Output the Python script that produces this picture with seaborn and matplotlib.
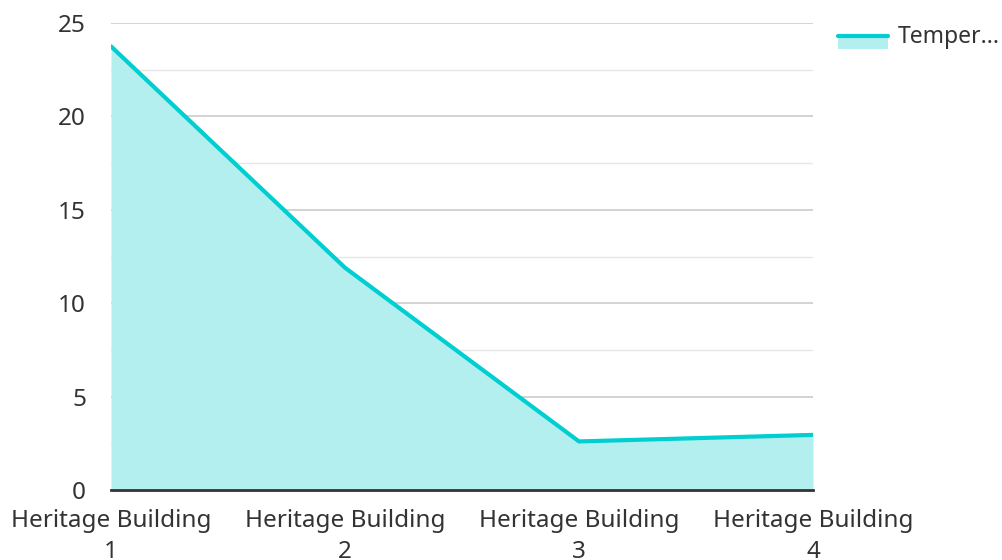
import numpy as np
import pandas as pd
import matplotlib
matplotlib.use("Agg")
import matplotlib.pyplot as plt
import seaborn as sns
from matplotlib.patches import Rectangle
from matplotlib.lines import Line2D

# data
buildings = ["Heritage Building\n1", "Heritage Building\n2", "Heritage Building\n3", "Heritage Building\n4"]
temperature = [23.75, 11.9, 2.6, 2.95]
series_label = "Temper..."

line_color = "#00CED1"
fill_color = "#B2EFEE"
text_color = "#333333"

sns.set_style("white")
plt.rcParams["font.family"] = ["Noto Sans", "DejaVu Sans"]

df = pd.DataFrame({"x": np.arange(len(buildings)), "temp": temperature})

fig = plt.figure(figsize=(10.03, 5.6), dpi=100)
ax = fig.add_axes([111 / 1003, 1 - 490 / 560, (813 - 111) / 1003, (490 - 23) / 560])

ax.fill_between(df["x"], df["temp"], 0, color=fill_color, lw=0, zorder=2)
sns.lineplot(data=df, x="x", y="temp", ax=ax, color=line_color, lw=3, zorder=3)

ax.set_xlim(0, len(buildings) - 1)
ax.set_ylim(0, 25)
ax.set_xticks(df["x"])
ax.set_xticklabels(buildings, fontsize=17.5, color=text_color, linespacing=1.35)
ax.set_yticks(np.arange(0, 26, 5))
ax.set_yticks(np.arange(2.5, 25, 5), minor=True)
ax.tick_params(axis="y", which="both", length=0, pad=18, labelsize=17.5, labelcolor=text_color)
ax.tick_params(axis="x", length=0, pad=14)
ax.grid(axis="y", which="major", color="#cccccc", lw=1.2, zorder=1)
ax.grid(axis="y", which="minor", color="#e6e6e6", lw=1, zorder=1)
ax.set_xlabel("")
ax.set_ylabel("")
for side in ["top", "right", "left"]:
    ax.spines[side].set_visible(False)
ax.spines["bottom"].set_color("#333333")
ax.spines["bottom"].set_linewidth(2)
ax.spines["bottom"].set_zorder(4)


class AreaHandler:
    def legend_artist(self, legend, orig_handle, fontsize, handlebox):
        x0, y0 = handlebox.xdescent, handlebox.ydescent
        w, h = handlebox.width, handlebox.height
        rect = Rectangle((x0, y0 - h * 0.35), w, h * 0.8, facecolor=fill_color, lw=0,
                         transform=handlebox.get_transform())
        line = Line2D([x0, x0 + w], [y0 + h * 0.45] * 2, color=line_color, lw=3,
                      transform=handlebox.get_transform())
        handlebox.add_artist(rect)
        handlebox.add_artist(line)
        return rect


handle = Rectangle((0, 0), 1, 1)
leg = ax.legend([handle], [series_label], handler_map={Rectangle: AreaHandler()},
                loc="upper left", bbox_to_anchor=(838 / 1003, 1 - 25 / 560),
                bbox_transform=fig.transFigure, frameon=False, fontsize=16.5,
                handlelength=2.18, handletextpad=0.43, borderpad=0, borderaxespad=0)
for t in leg.get_texts():
    t.set_color(text_color)

fig.savefig("out.png", dpi=100)
